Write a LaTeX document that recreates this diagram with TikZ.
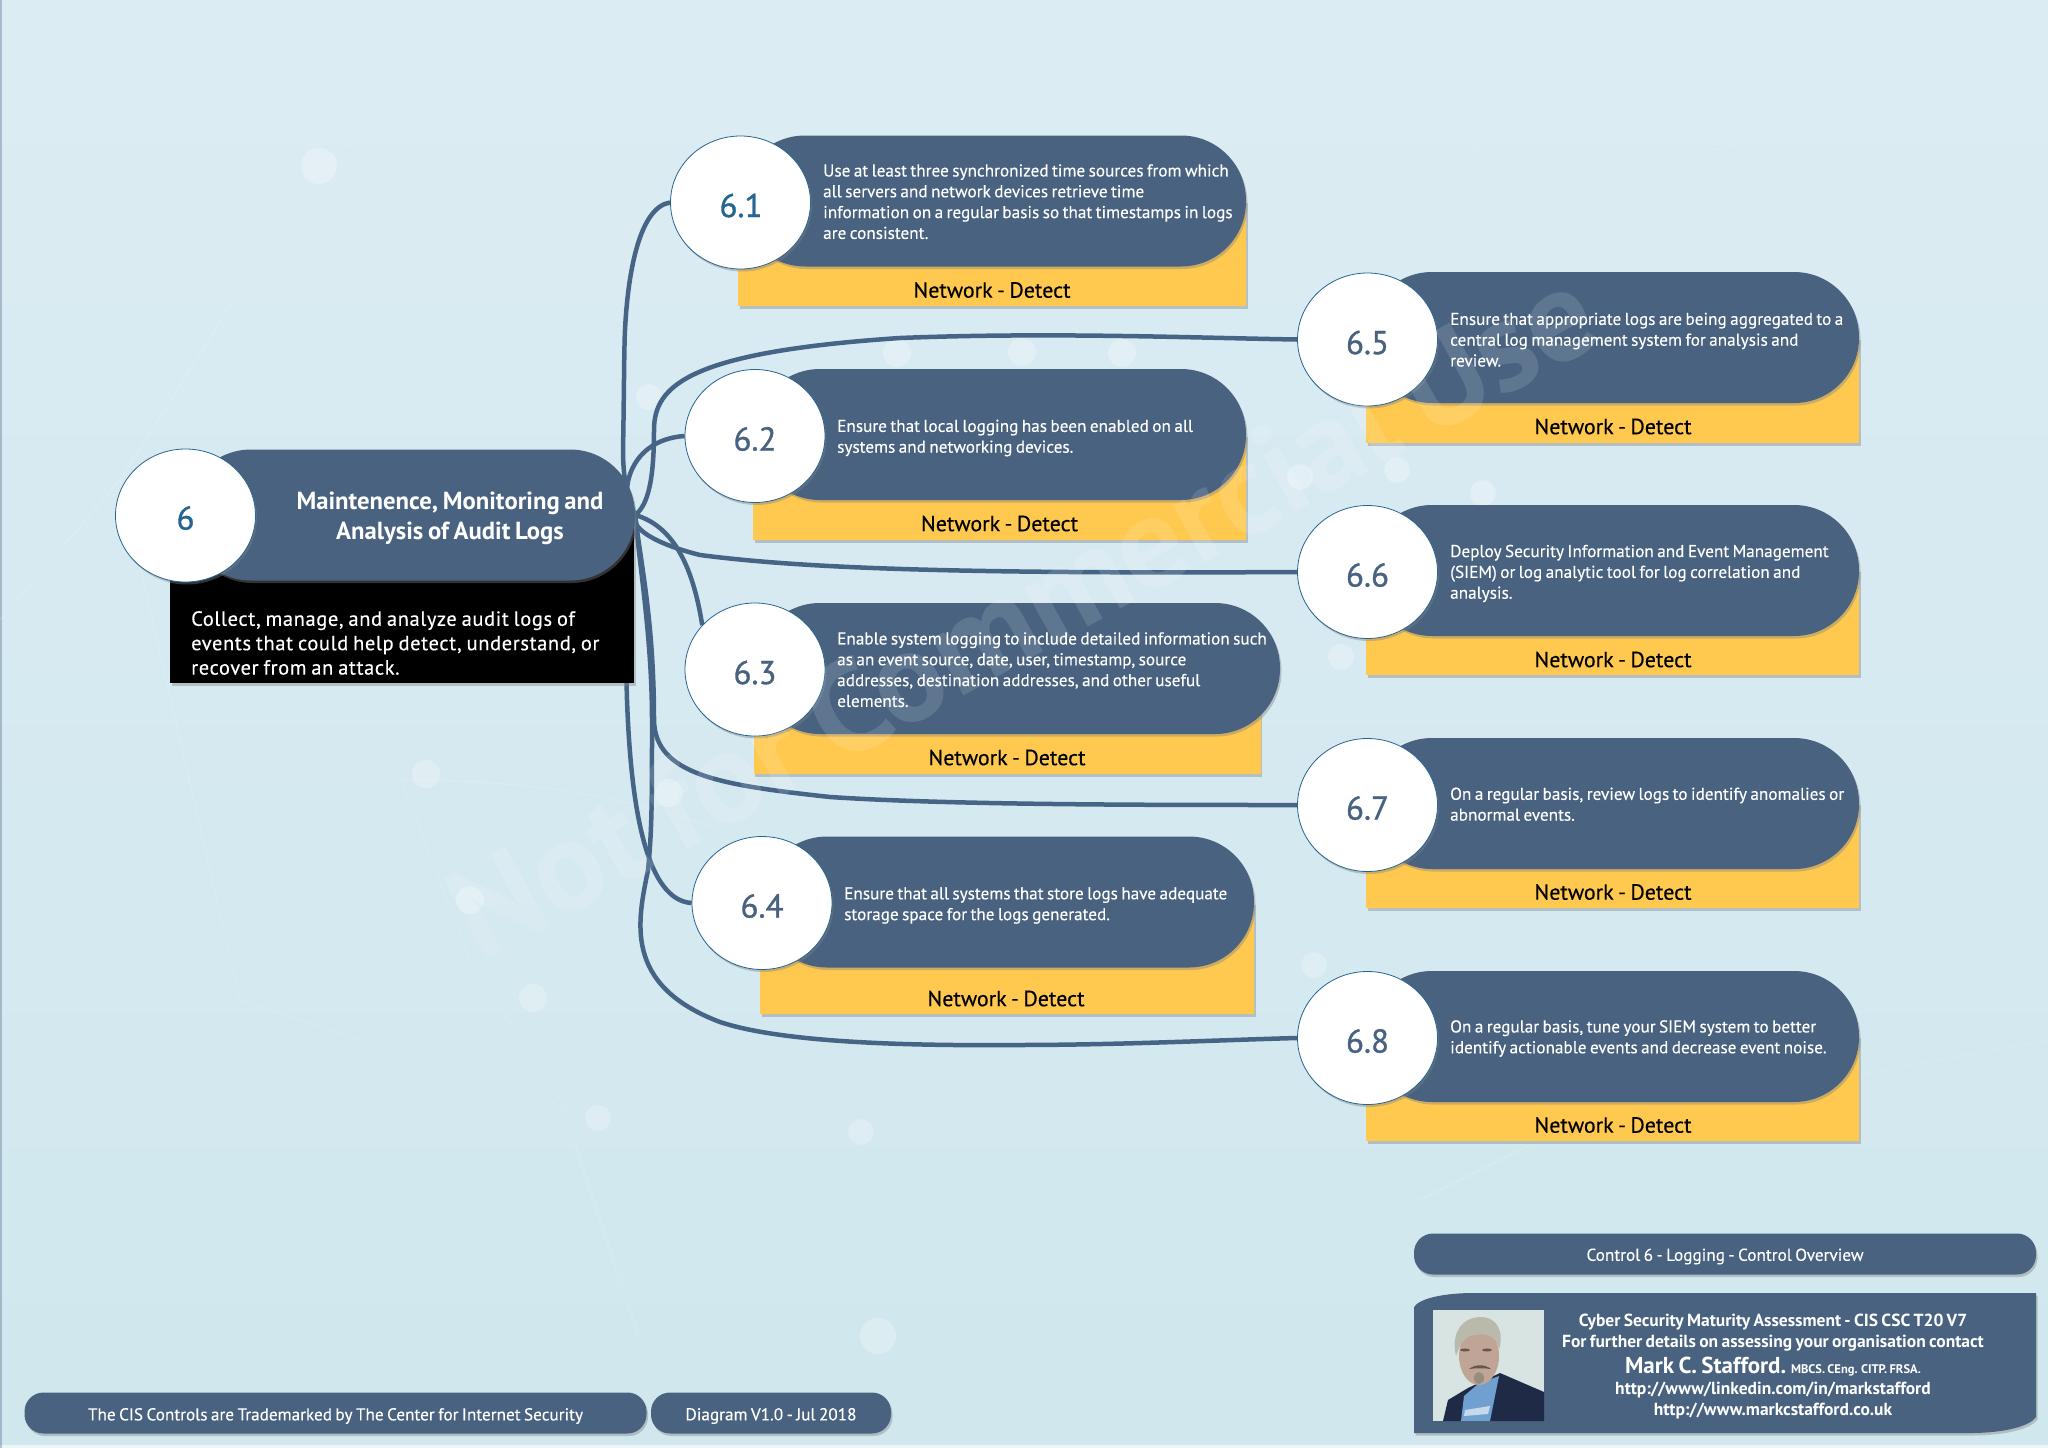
\documentclass[tikz,border=0pt]{standalone}
\usepackage{fontspec}
\setmainfont[FakeBold=0.3,WordSpace=0.75,BoldFeatures={FakeBold=0}]{PT Sans}
\newfontfamily\wide[LetterSpace=3,WordSpace=0.8,FakeBold=0.3]{PT Sans}
\newfontfamily\numfont[FakeBold=1]{PT Sans}
\usetikzlibrary{shapes.geometric}
\usetikzlibrary{shadows}
\definecolor{bgtop}{RGB}{220, 236, 243}
\definecolor{bgbot}{RGB}{208, 231, 238}
\definecolor{sl}{RGB}{72, 98, 128}
\definecolor{ln}{RGB}{70, 100, 133}
\definecolor{yl}{RGB}{255, 200, 78}
\definecolor{tl}{RGB}{38, 100, 145}
\definecolor{ph}{RGB}{216, 228, 226}
\definecolor{jk}{RGB}{30, 42, 70}
\definecolor{sh}{RGB}{112, 160, 208}
\definecolor{sk}{RGB}{192, 165, 150}
\definecolor{hr}{RGB}{185, 185, 172}
\definecolor{mo}{RGB}{100, 88, 78}
\definecolor{gt}{RGB}{150, 140, 128}
\pgfdeclarelayer{bglayer}
\pgfdeclarelayer{links}
\pgfsetlayers{bglayer,links,main}
\newcommand{\fs}[2]{\fontsize{#1}{#2}\selectfont}

\begin{document}
\begin{tikzpicture}[x=1pt, y=-1pt,
        shadowy/.style={drop shadow={shadow xshift=1.5pt, shadow yshift=-2.5pt, opacity=.4}},
        bar/.style={draw=none, fill=sl, rounded corners=65pt, minimum height=131pt, inner sep=0pt, shadowy},
        tag/.style={fill=yl, minimum height=106pt, inner sep=0pt, shadowy},
        tagtext/.style={text=black, font=\fs{22}{24}},
        num/.style={ellipse, draw=tl, line width=.8pt, fill=white, text=sl, minimum width=140pt, minimum height=133pt, inner sep=0pt, text depth=0pt, shadowy},
        numtext/.style={text=sl, inner sep=0pt, font=\fs{33}{36}\numfont},
        desc/.style={anchor=west, align=left, text=white, inner sep=0pt, font=\fs{17.2}{20.8}},
        pill/.style={fill=sl, rounded corners=19pt, minimum height=41pt, inner sep=0pt, shadowy},
        pilltext/.style={text=white, inner sep=0pt, font=\fs{17.2}{20}},
        card/.style={text=white, inner sep=0pt, font=\fs{17.5}{20}\bfseries},
        link/.style={draw=ln, line width=4.5pt},
        dot/.style={fill=white, opacity=.26},
        web/.style={draw=white, line width=1pt, opacity=.15}]
    \useasboundingbox (0,0) rectangle (2048,1448);

    % backdrop
    \begin{pgfonlayer}{bglayer}
        \shade[top color=bgtop, bottom color=bgbot] (0,0) rectangle (2048,1448);
        \fill[white, opacity=.6] (0,1445) rectangle (2048,1448);
        \fill[sl, opacity=.35] (0,0) rectangle (1.5,1448);
        \fill[dot] (319,166) circle (18);
        \fill[dot] (426,774) circle (14);
        \fill[dot] (470,900) circle (14);
        \fill[dot] (533,998) circle (14);
        \fill[dot] (598,1118) circle (13);
        \fill[dot] (669,793) circle (14);
        \fill[dot] (861,1132) circle (13);
        \fill[dot] (878,1336) circle (18);
        \fill[dot] (1314,965) circle (13);
        \fill[dot] (649,397) circle (13);
        \fill[dot] (897,353) circle (14);
        \fill[dot] (1022,352) circle (14);
        \fill[dot] (1122,353) circle (14);
        \fill[dot] (1300,477) circle (13);
        \fill[dot] (1397,470) circle (13);
        \fill[dot] (1483,493) circle (13);
        \fill[dot] (1341,657) circle (13);
        \draw[web] (400,780) .. controls (480,780) and (600,785) .. (720,830);
        \draw[web] (403,785) -- (470,960) -- (560,1100) -- (640,1340);
        \draw[web] (0,620) -- (120,480) -- (319,166) -- (560,0);
        \draw[web] (120,480) -- (240,1000) -- (598,1118);
        \draw[web] (1420,1200) -- (1560,1130) -- (2048,1040);
        \draw[web] (1240,0) -- (1560,200) -- (1900,90);
    \end{pgfonlayer}

    % main block
    \node[tag, fill=black, minimum width=464pt, minimum height=168pt] (black) at (402,599) {};
    \node[bar, minimum width=449pt] (main) at (410.5,515) {};
    \node[num] (c6) at (185.5,515.5) {};
    \node[numtext, text=tl] (n6) at (185.5,518) {6};
    \node[text=white, align=center, inner sep=0pt, font=\fs{24.7}{30}\bfseries] (title) at (450,518.5) {Maintenence, Monitoring and\\Analysis of Audit Logs};
    \node[anchor=west, align=left, text=white, inner sep=0pt, font=\fs{20.5}{24.4}\wide] (about) at (191,643) {Collect, manage, and analyze audit logs of\\events that could help detect, understand, or\\recover from an attack.};

    % left column
    \node[tag, minimum width=508pt] (tag61) at (992,253) {};
    \node[bar, minimum width=506pt] (bar61) at (993,201) {};
    \node[num] (c61) at (740.5,202.5) {};
    \node[numtext, text=tl] (n61) at (741,205.5) {6.1};
    \node[desc] (txt61) at (823,201.7) {Use at least three synchronized time sources from which\\all servers and network devices retrieve time\\information on a regular basis so that timestamps in logs\\are consistent.};
    \node[tagtext] (net61) at (992,290) {Network - Detect};

    \node[tag, minimum width=493pt] (tag62) at (999.5,487) {};
    \node[bar, minimum width=491pt] (bar62) at (1000.5,434.5) {};
    \node[num] (c62) at (755,436) {};
    \node[numtext] (n62) at (755,439) {6.2};
    \node[desc] (txt62) at (837,438) {Ensure that local logging has been enabled on all\\systems and networking devices.};
    \node[tagtext] (net62) at (999.5,523.5) {Network - Detect};

    \node[tag, minimum width=507pt] (tag63) at (1007,721) {};
    \node[bar, minimum width=525pt] (bar63) at (1017.5,668.5) {};
    \node[num] (c63) at (755,669.5) {};
    \node[numtext] (n63) at (755,672.5) {6.3};
    \node[desc] (txt63) at (837,669.7) {Enable system logging to include detailed information such\\as an event source, date, user, timestamp, source\\addresses, destination addresses, and other useful\\elements.};
    \node[tagtext] (net63) at (1007,757.5) {Network - Detect};

    \node[tag, minimum width=494pt, minimum height=112pt] (tag64) at (1007,958) {};
    \node[bar, minimum width=492pt] (bar64) at (1008,902) {};
    \node[num] (c64) at (762,903) {};
    \node[numtext] (n64) at (762,906) {6.4};
    \node[desc] (txt64) at (844,905.5) {Ensure that all systems that store logs have adequate\\storage space for the logs generated.};
    \node[tagtext] (net64) at (1006,998.5) {Network - Detect};

    % right column
    \node[tag, minimum width=493pt] (tag65) at (1612.5,390) {};
    \node[bar, minimum width=492pt] (bar65) at (1613,337.5) {};
    \node[num] (c65) at (1367.5,339.5) {};
    \node[numtext] (n65) at (1367.5,342.5) {6.5};
    \node[desc] (txt65) at (1450,339.7) {Ensure that appropriate logs are being aggregated to a\\central log management system for analysis and\\review.};
    \node[tagtext] (net65) at (1613,426.5) {Network - Detect};

    \node[tag, minimum width=493pt] (tag66) at (1612.5,622) {};
    \node[bar, minimum width=492pt] (bar66) at (1613,570.5) {};
    \node[num] (c66) at (1367.5,572) {};
    \node[numtext] (n66) at (1367.5,575) {6.6};
    \node[desc] (txt66) at (1450,573.5) {Deploy Security Information and Event Management\\(SIEM) or log analytic tool for log correlation and\\analysis.};
    \node[tagtext] (net66) at (1613,659.5) {Network - Detect};

    \node[tag, minimum width=493pt] (tag67) at (1612.5,855) {};
    \node[bar, minimum width=492pt] (bar67) at (1613,803.5) {};
    \node[num] (c67) at (1367.5,805) {};
    \node[numtext] (n67) at (1367.5,808) {6.7};
    \node[desc] (txt67) at (1450,804.2) {On a regular basis, review logs to identify anomalies or\\abnormal events.};
    \node[tagtext] (net67) at (1613,892) {Network - Detect};

    \node[tag, minimum width=493pt] (tag68) at (1612.5,1088) {};
    \node[bar, minimum width=492pt] (bar68) at (1613,1036.5) {};
    \node[num] (c68) at (1367.5,1038) {};
    \node[numtext] (n68) at (1367.5,1041) {6.8};
    \node[desc] (txt68) at (1450,1038.5) {On a regular basis, tune your SIEM system to better\\identify actionable events and decrease event noise.};
    \node[tagtext] (net68) at (1613,1125) {Network - Detect};

    % connectors
    \begin{pgfonlayer}{links}
        \draw[link] (main.east) .. controls (628,500) and (623,480) .. (623,450) .. controls (624,400) and (624,350) .. (625,330) .. controls (628,270) and (640,207) .. (c61.west);
        \draw[link] (main.east) .. controls (618,500) and (625,440) .. (c62.west);
        \draw[link] (main.east) .. controls (670,525) and (692,560) .. (c63.140);
        \draw[link] (main.east) .. controls (628,560) and (625,640) .. (627,700) .. controls (630,780) and (640,900) .. (c64.west);
        \draw[link] (main.east) .. controls (648,505) and (654,480) .. (654,430) .. controls (654,385) and (690,352) .. (900,338) .. controls (1050,332) and (1200,338) .. (c65.west);
        \draw[link] (main.east) .. controls (630,530) and (660,545) .. (700,555) .. controls (800,568) and (950,574) .. (c66.west);
        \draw[link] (main.east) .. controls (640,560) and (654,620) .. (654,720) .. controls (655,775) and (720,785) .. (830,797) .. controls (950,805) and (1150,805) .. (c67.west);
        \draw[link] (main.east) .. controls (640,570) and (652,640) .. (652,720) .. controls (652,800) and (652,830) .. (648,870) .. controls (638,920) and (622,985) .. (720,1022) .. controls (780,1042) and (900,1046) .. (1016,1045) .. controls (1120,1045) and (1220,1040) .. (c68.west);
    \end{pgfonlayer}

    % bottom strip
    \node[pill, minimum width=622pt] (mark) at (335.5,1413) {};
    \node[pilltext] (marktext) at (335.5,1416) {The CIS Controls are Trademarked by The Center for Internet Security};
    \node[pill, minimum width=240pt] (ver) at (771,1413) {};
    \node[pilltext] (vertext) at (771,1416) {Diagram V1.0 - Jul 2018};
    \node[pill, minimum width=622pt] (ctrl) at (1725,1254) {};
    \node[pilltext] (ctrltext) at (1725,1256.5) {Control 6 - Logging - Control Overview};

    % author card
    \fill[sl, shadowy] (1414,1433) -- (1414,1307) .. controls (1420,1298) and (1445,1293) .. (1474,1293) -- (2036,1293) -- (2036,1417) .. controls (2030,1426) and (2005,1433) .. (1970,1433) -- cycle;
    \begin{scope}
        \clip (1433,1310) rectangle (1544,1421);
        \fill[ph] (1433,1310) rectangle (1544,1421);
        \fill[jk] (1443,1421) -- (1448,1400) -- (1468,1388) -- (1500,1373) -- (1544,1392) -- (1544,1421) -- cycle;
        \fill[sh] (1461,1421) -- (1464,1396) -- (1478,1384) -- (1499,1376) -- (1490,1421) -- cycle;
        \fill[white!60!sh] (1465,1410) -- (1490,1406) -- (1488,1414) -- (1464,1416) -- cycle;
        \fill[sk] (1479,1356) ellipse (20 and 29);
        \fill[hr] (1456,1356) .. controls (1450,1330) and (1465,1317) .. (1480,1317) .. controls (1498,1317) and (1504,1332) .. (1499,1350) .. controls (1497,1335) and (1485,1332) .. (1470,1336) .. controls (1462,1340) and (1460,1345) .. (1456,1356) -- cycle;
        \fill[mo] (1465,1350) ellipse (5 and 1.5);
        \fill[mo] (1487,1350) ellipse (5 and 1.5);
        \fill[mo] (1469,1369) .. controls (1475,1364) and (1485,1364) .. (1491,1369) .. controls (1484,1368) and (1476,1368) .. (1469,1369) -- cycle;
        \fill[gt] (1479,1378) ellipse (5 and 6);
    \end{scope}
    \node[card] (cd1) at (1773,1322.5) {Cyber Security Maturity Assessment - CIS CSC T20 V7};
    \node[card] (cd2) at (1773,1343.5) {For further details on assessing your organisation contact};
    \node[card] (cd3) at (1773,1367) {{\fs{23}{26}Mark C. Stafford.} {\fs{12.5}{14}MBCS. CEng. CITP. FRSA.}};
    \node[card] (cd4) at (1773,1390.5) {http://www/linkedin.com/in/markstafford};
    \node[card] (cd5) at (1773,1411.5) {http://www.markcstafford.co.uk};

    % watermark
    \node[text=white, opacity=.13, rotate=29, inner sep=0pt, font=\fs{130}{134}\bfseries] (stamp) at (1022,612) {Not for Commercial Use};
\end{tikzpicture}
\end{document}
